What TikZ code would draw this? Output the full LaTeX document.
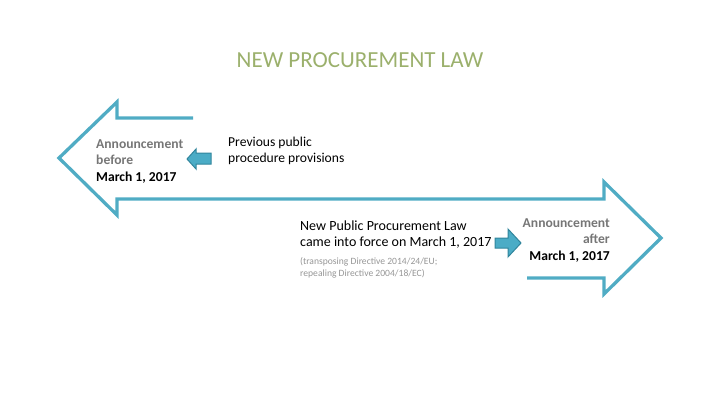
\documentclass[tikz,border=0pt]{standalone}
\usepackage{fontspec}
\setmainfont{Carlito}
\definecolor{teal1}{RGB}{80,172,196}
\definecolor{tealfill}{RGB}{75,172,198}
\definecolor{tealdark}{RGB}{49,133,156}
\definecolor{olive}{RGB}{155,176,108}
\definecolor{graytxt}{RGB}{118,118,118}
\definecolor{lightgray}{RGB}{150,150,150}
\tikzset{
  bigarrow/.style={draw=teal1, line width=3.3pt, miter limit=10},
  smallarrow/.style={draw=tealdark, fill=tealfill, line width=1pt, line join=miter},
  txt/.style={inner sep=0pt},
}
\begin{document}
\begin{tikzpicture}[x=1pt,y=-1pt]
\useasboundingbox (0,0) rectangle (720,405);
% big double arrow outline
\draw[bigarrow] (193,118) -- (117,118) -- (117,102) -- (59,158) -- (117,215) -- (117,199)
  -- (604,199) -- (604,182) -- (661,238) -- (604,294) -- (604,278) -- (527,278);
% small arrows
\draw[smallarrow] (211,153) -- (196,153) -- (196,149) -- (187,159) -- (196,169) -- (196,164) -- (211,164) -- cycle;
\draw[smallarrow] (495,238) -- (508,238) -- (508,229) -- (521,243) -- (508,257) -- (508,248) -- (495,248) -- cycle;
% title
\node[inner sep=0pt, text=olive, font=\fontsize{23}{27}\selectfont] (title) at (360,60) {NEW PROCUREMENT LAW};
% left text
\node[txt, anchor=north west, align=left, font=\fontsize{13.6}{16.8}\selectfont\bfseries] (before) at (96,139)
  {\textcolor{graytxt}{Announcement}\\\textcolor{graytxt}{before}\\March 1, 2017};
\node[txt, anchor=north west, align=left, font=\fontsize{13.6}{16}\selectfont] (prev) at (228,137)
  {Previous public\\procedure provisions};
\node[txt, anchor=north west, align=left, font=\fontsize{14}{16}\selectfont] (newlaw) at (300,221)
  {New Public Procurement Law\\came into force on March 1, 2017};
\node[txt, anchor=north west, align=left, text=lightgray, font=\fontsize{9.6}{12}\selectfont] (trans) at (300,257)
  {(transposing Directive 2014/24/EU;\\repealing Directive 2004/18/EC)};
\node[txt, anchor=north east, align=right, font=\fontsize{13.6}{16.8}\selectfont\bfseries] (after) at (610,218)
  {\textcolor{graytxt}{Announcement}\\\textcolor{graytxt}{after}\\March 1, 2017};
\end{tikzpicture}
\end{document}
